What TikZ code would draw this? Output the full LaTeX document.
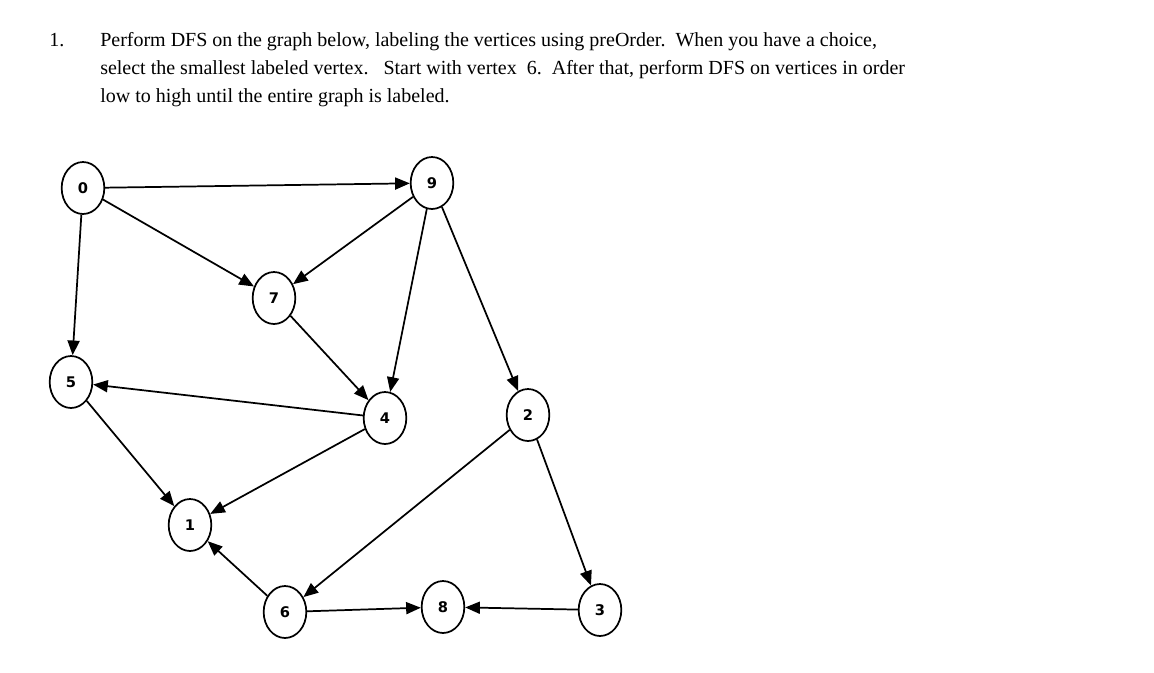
\documentclass[tikz,border=0pt]{standalone}
\usepackage{fontspec}
\setmainfont{Liberation Serif}
\newfontfamily\nodefont{DejaVu Sans}
\usetikzlibrary{arrows.meta,shapes.geometric}
\begin{document}
\begin{tikzpicture}[x=0.75pt,y=-0.75pt,
  vert/.style={draw,line width=1.3pt,ellipse,minimum width=32pt,minimum height=39pt,inner sep=0pt,font=\nodefont\bfseries\fontsize{11}{12}\selectfont},
  edge/.style={-{Triangle[length=11pt,width=9pt]},line width=1.3pt},
  txt/.style={anchor=base west,inner sep=0pt,font=\fontsize{15}{18}\selectfont}]
\useasboundingbox (0,0) rectangle (1154,672);
\node[txt] (n1) at (49,46) {1.};
\node[txt] (l1) at (100,46) {Perform DFS on the graph below, labeling the vertices using preOrder.\ \ When you have a choice,};
\node[txt] (l2) at (100,74) {select the smallest labeled vertex.\ \ \ Start with vertex\ \ 6.\ \ After that, perform DFS on vertices in order};
\node[txt] (l3) at (100,102) {low to high until the entire graph is labeled.};
\node[vert] (v0) at (83,188) {0};
\node[vert] (v9) at (432,183) {9};
\node[vert] (v7) at (274,298) {7};
\node[vert] (v5) at (71,382) {5};
\node[vert] (v4) at (385,418) {4};
\node[vert] (v2) at (528,415) {2};
\node[vert] (v1) at (190,525) {1};
\node[vert] (v6) at (285,612) {6};
\node[vert] (v8) at (443,607) {8};
\node[vert] (v3) at (600,610) {3};
\draw[edge] (v0) -- (v9);
\draw[edge] (v0) -- (v7);
\draw[edge] (v0) -- (v5);
\draw[edge] (v9) -- (v7);
\draw[edge] (v9) -- (v4);
\draw[edge] (v9) -- (v2);
\draw[edge] (v7) -- (v4);
\draw[edge] (v4) -- (v5);
\draw[edge] (v4) -- (v1);
\draw[edge] (v5) -- (v1);
\draw[edge] (v2) -- (v6);
\draw[edge] (v2) -- (v3);
\draw[edge] (v6) -- (v1);
\draw[edge] (v6) -- (v8);
\draw[edge] (v3) -- (v8);
\end{tikzpicture}
\end{document}
